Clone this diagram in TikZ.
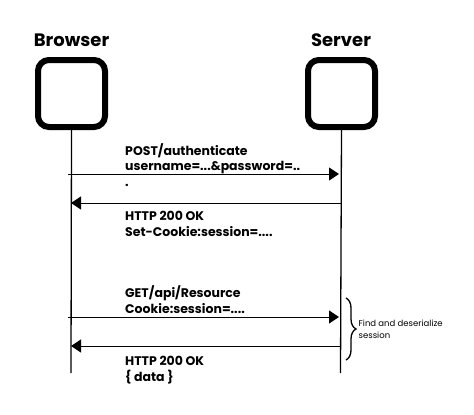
\documentclass[tikz,border=0pt]{standalone}
\usepackage{fontspec}
\setmainfont{Poppins}
\usetikzlibrary{arrows.meta, decorations.pathreplacing}

\begin{document}
\begin{tikzpicture}[x=1pt, y=-1pt]
\tikzstyle{actor}=[draw, line width=6pt, rounded corners=11pt,
                   minimum width=67pt, minimum height=67pt]
\tikzstyle{ttl}=[anchor=base, font=\fontsize{18}{20}\selectfont\bfseries]
\tikzstyle{msg}=[anchor=base west, align=left, inner sep=0pt,
                 font=\fontsize{12.5}{15.5}\selectfont\bfseries]
\tikzstyle{life}=[line width=1.3pt]
\tikzstyle{call}=[line width=0.9pt, -{Triangle[length=10pt, width=13pt]}]
\useasboundingbox (0,0) rectangle (474,415);
	\node[actor] (browser) at (71.5,93.5){};
	\node[actor] (server) at (341.5,93.5){};
	\node[ttl] (browserlbl) at (71.5,46){Browser};
	\node[ttl] (serverlbl) at (341,46){Server};
	\coordinate (browserend) at (71,373);
	\coordinate (serverend) at (340.5,373);
	\draw[life] (browser.south) -- (browserend);
	\draw[life] (server.south) -- (serverend);

% requests and replies
\foreach \n/\y in {1/174,3/317}{\coordinate (b\n) at (68,\y); \coordinate (s\n) at (339,\y); \draw[call] (b\n) -- (s\n);}
\foreach \n/\y in {2/203,4/346}{\coordinate (s\n) at (341,\y); \coordinate (b\n) at (71,\y); \draw[call] (s\n) -- (b\n);}

% base is the last line
	\node[msg] (post) at (125,186){POST/authenticate\\username=...\&password=..\\.};
	\node[msg] (ok1) at (125,236){HTTP 200 OK\\Set-Cookie:session=....};
	\node[msg] (get) at (125,313){GET/api/Resource\\Cookie:session=....};
	\node[msg] (ok2) at (125,381){HTTP 200 OK\\\{ data \}};

	\coordinate (bracetop) at (346,298);
	\coordinate (bracebot) at (346,360);
	\draw[decorate, decoration={brace, amplitude=10pt}, line width=1.3pt] (bracetop) -- node[midway, right=12pt, align=left, inner sep=0pt,
	      font=\fontsize{8.5}{12}\selectfont] (note){Find and deserialize\\session} (bracebot);
\end{tikzpicture}
\end{document}
